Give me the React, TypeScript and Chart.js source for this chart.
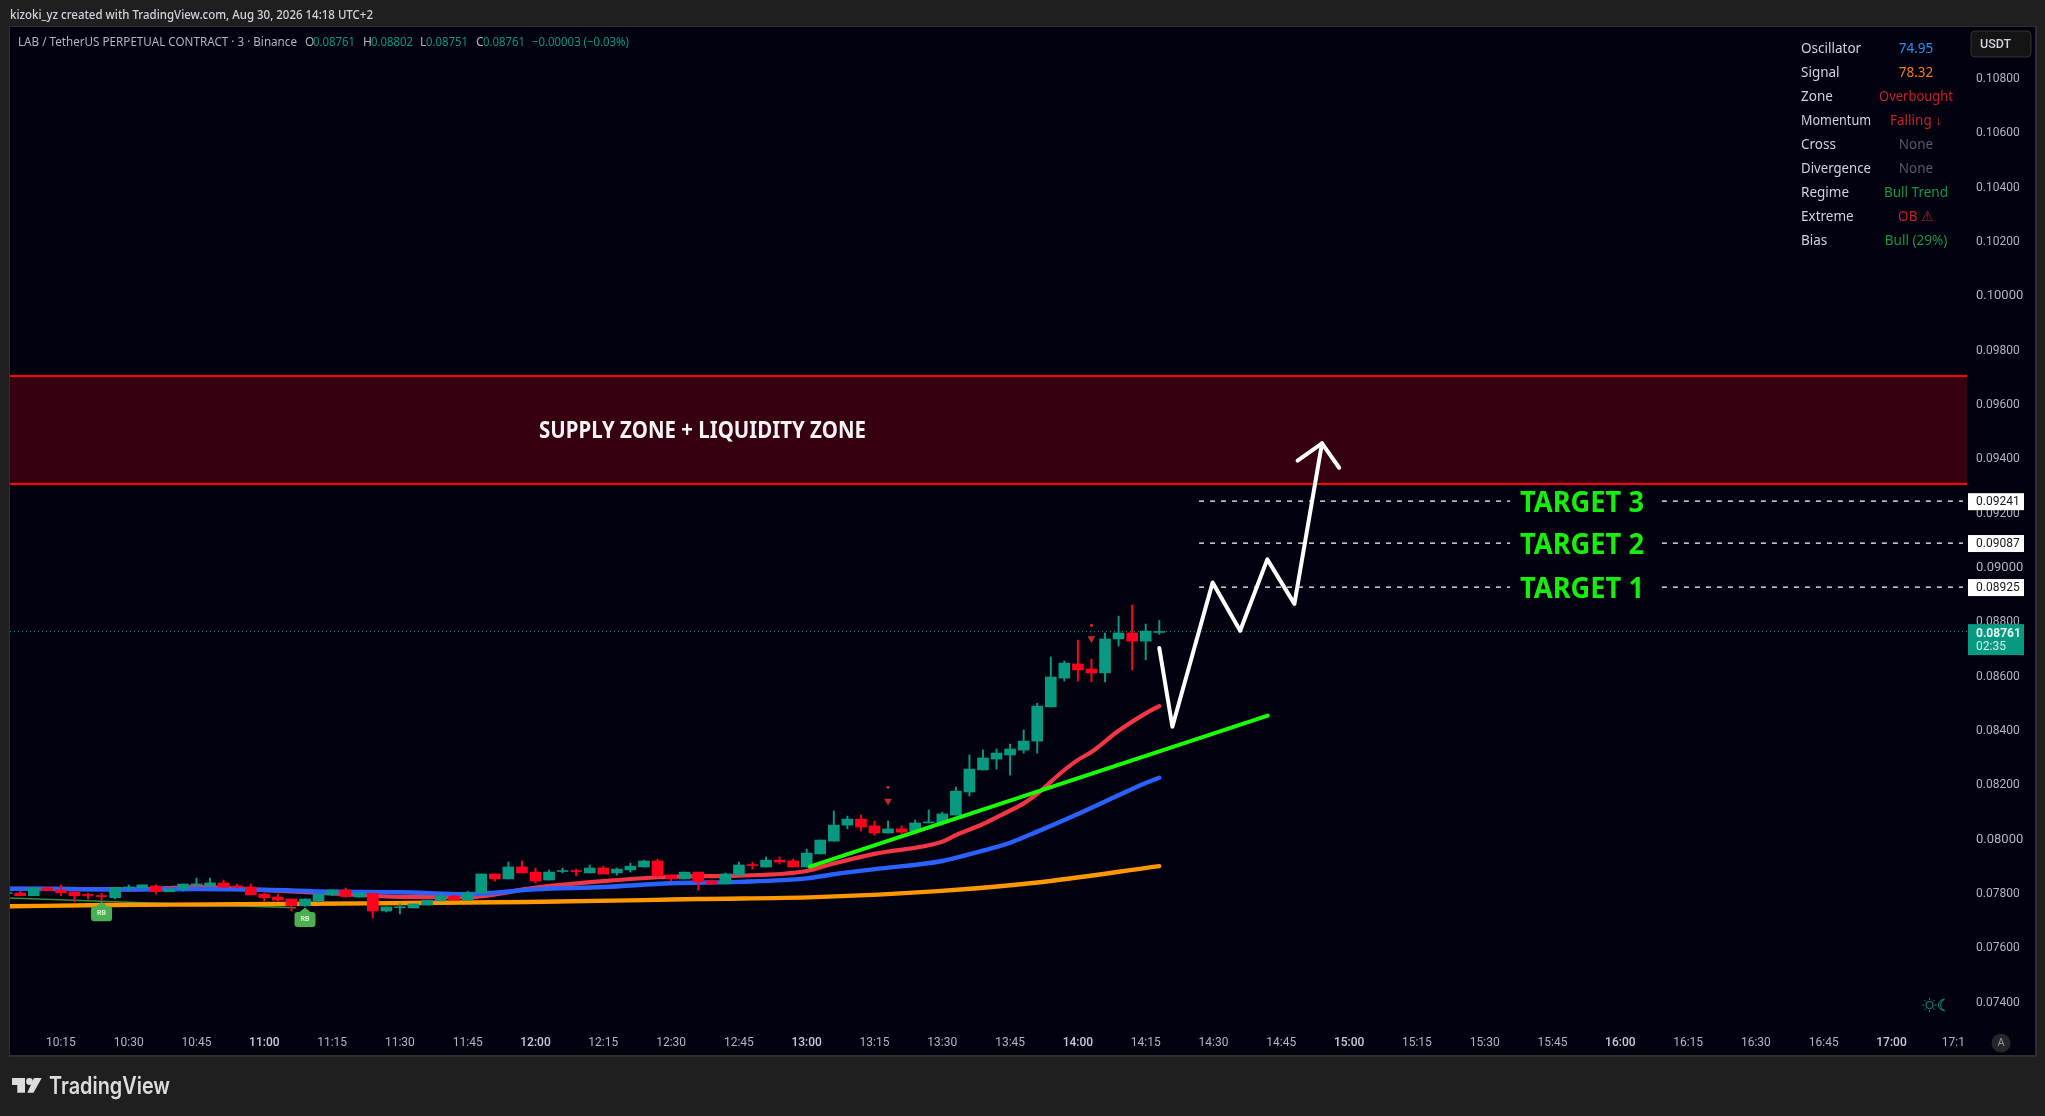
import React, { useEffect, useRef } from "react";
import { Chart, registerables } from "chart.js";

Chart.register(...registerables);

const candleTimes = [603,606,609,612,615,618,621,624,627,630,633,636,639,642,645,648,651,654,657,660,663,666,669,672,675,678,681,684,687,690,693,696,699,702,705,708,711,714,717,720,723,726,729,732,735,738,741,744,747,750,753,756,759,762,765,768,771,774,777,780,783,786,789,792,795,798,801,804,807,810,813,816,819,822,825,828,831,834,837,840,843,846,849,852,855,858];
const opens = [.07797,.07799,.07789,.07818,.07810,.07803,.07793,.07788,.07782,.07818,.07818,.07825,.07804,.07814,.07829,.07825,.07836,.07825,.07821,.07795,.07784,.07777,.07752,.07770,.07792,.07810,.07784,.07798,.07733,.07745,.07744,.07755,.07770,.07788,.07773,.07799,.07869,.07851,.07895,.07876,.07847,.07878,.07880,.07873,.07891,.07873,.07884,.07895,.07917,.07865,.07851,.07876,.07843,.07833,.07865,.07902,.07895,.07920,.07917,.07895,.07943,.07990,.08049,.08071,.08046,.08020,.08035,.08027,.08057,.08057,.08086,.08171,.08252,.08292,.08307,.08325,.08358,.08484,.08590,.08642,.08623,.08609,.08734,.08756,.08726,.08758];
const highs = [.07799,.07806,.07818,.07818,.07829,.07803,.07798,.07798,.07820,.07829,.07829,.07829,.07814,.07832,.07854,.07854,.07847,.07832,.07832,.07799,.07795,.07777,.07777,.07795,.07810,.07818,.07799,.07798,.07748,.07759,.07759,.07773,.07802,.07792,.07806,.07869,.07869,.07913,.07917,.07891,.07884,.07891,.07887,.07902,.07898,.07891,.07909,.07920,.07924,.07865,.07876,.07876,.07847,.07873,.07913,.07913,.07932,.07932,.07924,.07961,.07994,.08101,.08082,.08086,.08064,.08064,.08046,.08068,.08105,.08097,.08189,.08307,.08325,.08329,.08347,.08399,.08498,.08668,.08653,.08730,.08660,.08756,.08818,.08859,.08789,.08802];
const lows = [.07797,.07789,.07789,.07808,.07789,.07767,.07777,.07771,.07777,.07806,.07818,.07795,.07804,.07806,.07825,.07825,.07819,.07818,.07792,.07770,.07770,.07733,.07750,.07766,.07789,.07783,.07784,.07707,.07729,.07722,.07744,.07755,.07770,.07773,.07773,.07799,.07843,.07851,.07873,.07836,.07847,.07873,.07862,.07873,.07869,.07865,.07876,.07895,.07858,.07843,.07851,.07810,.07832,.07833,.07865,.07887,.07895,.07906,.07895,.07895,.07943,.07990,.08035,.08027,.08012,.08020,.08016,.08027,.08057,.08049,.08086,.08156,.08252,.08255,.08233,.08314,.08314,.08484,.08579,.08579,.08576,.08576,.08708,.08620,.08657,.08751];
const closes = [.07799,.07789,.07818,.07808,.07800,.07789,.07790,.07786,.07820,.07820,.07829,.07804,.07814,.07832,.07831,.07836,.07820,.07820,.07792,.07782,.07773,.07752,.07777,.07795,.07810,.07786,.07799,.07733,.07748,.07748,.07759,.07773,.07788,.07773,.07799,.07869,.07851,.07895,.07873,.07843,.07876,.07880,.07878,.07891,.07869,.07887,.07898,.07917,.07862,.07851,.07876,.07840,.07832,.07869,.07902,.07900,.07920,.07913,.07895,.07946,.07994,.08049,.08071,.08042,.08020,.08035,.08023,.08057,.08060,.08090,.08174,.08255,.08296,.08314,.08329,.08358,.08487,.08594,.08645,.08620,.08609,.08734,.08756,.08726,.08763,.08761];

const redTimes = [603,615,630,645,660,675,690,705,720,735,750,765,780,786,795,810,813,819,823,828,832,836,840,843,849,855,858];
const redValues = [.07814,.07814,.07812,.07821,.07810,.07798,.07785,.07784,.07819,.07843,.07859,.07863,.07880,.07908,.07943,.07988,.08012,.08053,.08086,.08129,.08178,.08238,.08289,.08318,.08396,.08460,.08487];
const blueTimes = [603,615,630,645,660,675,690,705,720,735,750,765,780,786,795,810,819,825,831,840,849,855,858];
const blueValues = [.07815,.07814,.07812,.07814,.07811,.07804,.07802,.07795,.07813,.07821,.07835,.07840,.07853,.07868,.07887,.07917,.07955,.07984,.08025,.08090,.08159,.08204,.08223];
const orangeTimes = [603,626,648,666,683,718,744,756,782,809,830,858];
const orangeValues = [.07750,.07755,.07757,.07759,.07761,.07766,.07773,.07777,.07784,.07806,.07836,.07898];
const thinGreenTimes = [603,630,667];
const thinGreenValues = [.07781,.07765,.07745];
const trendTimes = [780.7,882];
const trendValues = [.07896,.08452];
const pathTimes = [858,860.9,869.8,875.9,881.9,887.9,894];
const pathValues = [.08701,.08411,.08942,.08764,.09027,.08863,.09454];
const arrowTimes = [888.6,894,897.8];
const arrowValues = [.09390,.09454,.09364];

const zoneTop = 0.09702;
const zoneBottom = 0.09304;
const lastPrice = 0.08761;
const targetPrices = [0.09241, 0.09087, 0.08925];
const targetNames = ["TARGET 3", "TARGET 2", "TARGET 1"];
const targetSpanA = [866.8, 935.6];
const targetSpanB = [969.2, 1035.8];

const sellTimes = [798, 843];
const sellTriangles = [0.08138, 0.08736];
const sellDots = [0.08188, 0.08784];
const rbTimes = [624, 669];
const rbPrices = [0.07767, 0.07746];

const panelLabels = ["Oscillator","Signal","Zone","Momentum","Cross","Divergence","Regime","Extreme","Bias"];
const panelValues = ["74.95","78.32","Overbought","Falling ↓","None","None","Bull Trend","OB ⚠","Bull (29%)"];
const panelColors = ["#2196f3","#f57c1f","#c8202b","#c8202b","#5a5a66","#5a5a66","#0f9a45","#c8202b","#0f9a45"];

const X_MIN = 603.74;
const X_MAX = 1036.7;
const Y_MIN = 0.07306;
const Y_MAX = 0.10986;

const OUTER = "#1f1f1f";
const PANE = "#02010f";
const BORDER = "#2f2f2f";
const TEAL = "#089981";
const RED = "#ff001e";
const AXIS = "#b2b5be";
const SANS = '"Noto Sans", sans-serif';
const ROBOTO = "Roboto, sans-serif";

const pts = (xs: number[], ys: number[]) => xs.map((x, i) => ({ x, y: ys[i] }));
const clockLabel = (m: number) => {
  const h = Math.floor(m / 60);
  const mm = m % 60;
  return `${h}:${String(mm).padStart(2, "0")}`;
};

function txt(ctx: any, s: string, x: number, y: number, font: string, color: string, align = "left", maxW?: number) {
  ctx.font = font;
  ctx.fillStyle = color;
  ctx.textAlign = align;
  ctx.textBaseline = "middle";
  if (maxW) ctx.fillText(s, x, y, maxW);
  else ctx.fillText(s, x, y);
}

const framePlugin = {
  id: "frame",
  beforeDraw(chart: any) {
    const { ctx } = chart;
    ctx.save();
    ctx.fillStyle = OUTER;
    ctx.fillRect(0, 0, 2045, 1116);
    ctx.fillStyle = BORDER;
    ctx.fillRect(9, 26, 2028, 1031);
    ctx.fillStyle = PANE;
    ctx.fillRect(10, 27, 2025, 1028);
    ctx.restore();
  },
  afterDraw(chart: any) {
    const { ctx, scales } = chart;
    const xs = scales.x;
    const ys = scales.y;
    ctx.save();

    // header lines
    txt(ctx, "kizoki_yz created with TradingView.com, Aug 30, 2026 14:18 UTC+2", 10, 15.5, `500 12.5px ${SANS}`, "#d1d4dc", "left", 363);
    txt(ctx, "LAB / TetherUS PERPETUAL CONTRACT · 3 · Binance", 18, 42.7, `12px ${SANS}`, AXIS, "left", 279);
    const ohlc = [["O", "0.08761", 305, 313], ["H", "0.08802", 363, 371], ["L", "0.08751", 420, 426], ["C", "0.08761", 476, 483]];
    ohlc.forEach(([a, b, x1, x2]: any) => {
      txt(ctx, a, x1, 42.7, `12px ${SANS}`, AXIS);
      txt(ctx, b, x2, 42.7, `12px ${SANS}`, TEAL, "left", 42);
    });
    txt(ctx, "−0.00003 (−0.03%)", 532, 42.7, `12px ${SANS}`, TEAL, "left", 97);

    // zone label
    txt(ctx, "SUPPLY ZONE + LIQUIDITY ZONE", 539, (ys.getPixelForValue(zoneTop) + ys.getPixelForValue(zoneBottom)) / 2 + 1.3, `700 23px ${SANS}`, "#f4f4f4", "left", 327);

    // target labels and price tags
    targetPrices.forEach((p, i) => {
      const y = ys.getPixelForValue(p);
      txt(ctx, targetNames[i], 1520, y + 2.5, `700 29px ${SANS}`, "#14f00a", "left", 124);
      ctx.fillStyle = "#ffffff";
      ctx.fillRect(1968, y - 8, 56, 17);
      txt(ctx, p.toFixed(5), 1976, y + 1.2, `12px ${ROBOTO}`, "#131722");
    });

    // last price tag
    const ly = ys.getPixelForValue(lastPrice);
    ctx.fillStyle = TEAL;
    ctx.fillRect(1968, ly - 7.5, 56, 31);
    txt(ctx, lastPrice.toFixed(5), 1976, ly + 2.7, `bold 12px ${ROBOTO}`, "#e8f6f3");
    txt(ctx, "02:35", 1976, ly + 15.7, `12px ${ROBOTO}`, "#d5efe9");

    // RB badges
    rbTimes.forEach((t, i) => {
      const x = xs.getPixelForValue(t);
      const y = ys.getPixelForValue(rbPrices[i]);
      ctx.fillStyle = "#4caf50";
      ctx.beginPath();
      ctx.moveTo(x, y);
      ctx.lineTo(x + 6, y + 5);
      ctx.lineTo(x - 6, y + 5);
      ctx.closePath();
      ctx.fill();
      ctx.beginPath();
      ctx.roundRect(x - 10.5, y + 4.5, 21, 15, 3);
      ctx.fill();
      txt(ctx, "RB", x, y + 12, `bold 7px ${ROBOTO}`, "#d8f0d9", "center");
    });

    // oscillator panel
    panelLabels.forEach((l, i) => {
      const y = 49.6 + i * 24;
      txt(ctx, l, 1801, y, `13.5px ${SANS}`, "#d1d4dc", "left", 70);
      txt(ctx, panelValues[i], 1916, y, `13.5px ${SANS}`, panelColors[i], "center", 74);
    });

    // currency button
    ctx.fillStyle = "#141414";
    ctx.strokeStyle = "#34343a";
    ctx.lineWidth = 1;
    ctx.beginPath();
    ctx.roundRect(1971, 31, 60, 26, 4);
    ctx.fill();
    ctx.stroke();
    txt(ctx, "USDT", 1980, 45, `500 12.5px ${ROBOTO}`, "#d1d4dc");

    // theme icon: sun and moon
    ctx.strokeStyle = TEAL;
    ctx.lineWidth = 1;
    ctx.beginPath();
    ctx.arc(1929.5, 1005, 3.6, 0, Math.PI * 2);
    for (let a = 0; a < 8; a++) {
      const ang = (a * Math.PI) / 4;
      ctx.moveTo(1929.5 + Math.cos(ang) * 5, 1005 + Math.sin(ang) * 5);
      ctx.lineTo(1929.5 + Math.cos(ang) * 7, 1005 + Math.sin(ang) * 7);
    }
    ctx.moveTo(1944, 999.5);
    ctx.arc(1944, 1005, 5.5, -Math.PI / 2, Math.PI / 2, true);
    ctx.arc(1947, 1005, 6.3, Math.PI * 0.62, -Math.PI * 0.62, false);
    ctx.stroke();

    // auto scale button
    ctx.fillStyle = "#25252c";
    ctx.beginPath();
    ctx.arc(2001, 1043, 9.5, 0, Math.PI * 2);
    ctx.fill();
    txt(ctx, "A", 2001, 1043.5, `11px ${ROBOTO}`, "#9598a1", "center");

    // logo
    ctx.fillStyle = "#dcdcdc";
    ctx.beginPath();
    ctx.moveTo(12, 1078);
    ctx.lineTo(25, 1078);
    ctx.lineTo(25, 1092.7);
    ctx.lineTo(17.3, 1092.7);
    ctx.lineTo(17.3, 1085);
    ctx.lineTo(12, 1085);
    ctx.closePath();
    ctx.fill();
    ctx.beginPath();
    ctx.arc(29.5, 1081.5, 3.4, 0, Math.PI * 2);
    ctx.fill();
    ctx.beginPath();
    ctx.moveTo(41.7, 1078);
    ctx.lineTo(33.5, 1092.7);
    ctx.lineTo(27.3, 1092.7);
    ctx.lineTo(34, 1078);
    ctx.closePath();
    ctx.fill();
    txt(ctx, "TradingView", 49, 1086.5, `600 24px Inter, ${SANS}`, "#dcdcdc", "left", 121);

    ctx.restore();
  },
};

export default function App() {
  const ref = useRef<HTMLCanvasElement | null>(null);
  useEffect(() => {
    document.body.style.background = OUTER;
    const up = (i: number) => closes[i] >= opens[i];
    const candleColors = candleTimes.map((_, i) => (up(i) ? TEAL : RED));
    const chart = new Chart(ref.current as HTMLCanvasElement, {
      type: "bar",
      data: {
        datasets: [
          { type: "line", data: pts([X_MIN, X_MAX], [zoneTop, zoneTop]), borderColor: "#ff0010", borderWidth: 2, pointRadius: 0, fill: "+1", backgroundColor: "#370010", order: 100 },
          { type: "line", data: pts([X_MIN, X_MAX], [zoneBottom, zoneBottom]), borderColor: "#ff0010", borderWidth: 2, pointRadius: 0, fill: false, order: 99 },
          { type: "line", data: pts(thinGreenTimes, thinGreenValues), borderColor: "#2f8f3a", borderWidth: 1.5, pointRadius: 0, order: 60 },
          { type: "line", data: pts(redTimes, redValues), borderColor: "#f23645", borderWidth: 4.2, pointRadius: 0, cubicInterpolationMode: "monotone", borderCapStyle: "round", order: 52 },
          { type: "line", data: pts(blueTimes, blueValues), borderColor: "#2962ff", borderWidth: 4.4, pointRadius: 0, cubicInterpolationMode: "monotone", borderCapStyle: "round", order: 51 },
          { type: "line", data: pts(orangeTimes, orangeValues), borderColor: "#ff9800", borderWidth: 4.4, pointRadius: 0, cubicInterpolationMode: "monotone", borderCapStyle: "round", order: 50 },
          { type: "line", data: pts([X_MIN, X_MAX], [lastPrice, lastPrice]), borderColor: TEAL, borderWidth: 1, borderDash: [1, 3], pointRadius: 0, order: 45 },
          { type: "bar", data: candleTimes.map((x, i) => ({ x, y: [lows[i], highs[i]] })), backgroundColor: candleColors, barThickness: 1.3, borderWidth: 0, grouped: false, order: 40 },
          { type: "bar", data: candleTimes.map((x, i) => ({ x, y: [opens[i], closes[i]] })), backgroundColor: candleColors, barThickness: 11, minBarLength: 1, borderWidth: 0, grouped: false, order: 39 },
          { type: "scatter", data: pts(sellTimes, sellTriangles), pointStyle: "triangle", rotation: 180, radius: 4.5, backgroundColor: "#c62828", borderWidth: 0, order: 30 },
          { type: "scatter", data: pts(sellTimes, sellDots), pointStyle: "circle", radius: 1.6, backgroundColor: "#c62828", borderWidth: 0, order: 30 },
          ...targetPrices.flatMap((p) => [
            { type: "line", data: pts(targetSpanA, [p, p]), borderColor: "#ffffff", borderWidth: 1.2, borderDash: [5, 6], pointRadius: 0, order: 25 },
            { type: "line", data: pts(targetSpanB, [p, p]), borderColor: "#ffffff", borderWidth: 1.2, borderDash: [5, 6], pointRadius: 0, order: 25 },
          ]),
          { type: "line", data: pts(trendTimes, trendValues), borderColor: "#19ff05", borderWidth: 4, pointRadius: 0, borderCapStyle: "round", order: 20 },
          { type: "line", data: pts(pathTimes, pathValues), borderColor: "#ffffff", borderWidth: 4, pointRadius: 0, borderCapStyle: "round", borderJoinStyle: "round", order: 10 },
          { type: "line", data: pts(arrowTimes, arrowValues), borderColor: "#ffffff", borderWidth: 4, pointRadius: 0, borderCapStyle: "round", borderJoinStyle: "round", order: 10 },
        ] as any,
      },
      options: {
        animation: false,
        responsive: false,
        devicePixelRatio: 1,
        layout: { padding: { left: 10, top: 27, right: 10, bottom: 61 } },
        plugins: { legend: { display: false }, tooltip: { enabled: false }, title: { display: false } },
        events: [],
        scales: {
          x: {
            type: "linear",
            offset: false,
            min: X_MIN,
            max: X_MAX,
            afterFit: (s: any) => { s.height = 28; },
            grid: { display: false, drawTicks: false },
            border: { display: false },
            ticks: {
              stepSize: 15,
              includeBounds: false,
              autoSkip: false,
              maxRotation: 0,
              padding: 9,
              color: (c: any) => (c.tick && c.tick.value % 60 === 0 ? "#c8cbd3" : AXIS),
              font: (c: any) => ({ family: "Roboto", size: 12, weight: c.tick && c.tick.value % 60 === 0 ? "500" : "normal" }),
              callback: (v: any) => (v === 1035 ? "17:1    " : clockLabel(Number(v))),
            },
          },
          y: {
            type: "linear",
            position: "right",
            min: Y_MIN,
            max: Y_MAX,
            afterFit: (s: any) => { s.width = 68; },
            grid: { display: false, drawTicks: false },
            border: { display: false },
            ticks: {
              stepSize: 0.002,
              includeBounds: false,
              autoSkip: false,
              padding: 9,
              labelOffset: 1.3,
              crossAlign: "near",
              color: AXIS,
              font: (c: any) => ({ family: "Roboto", size: c.tick && Math.abs(c.tick.value * 100 - Math.round(c.tick.value * 100)) < 1e-6 ? 13 : 12 }),
              callback: (v: any) => Number(v).toFixed(5),
            },
          },
        },
      } as any,
      plugins: [framePlugin],
    } as any);
    return () => chart.destroy();
  }, []);
  return <canvas ref={ref} width={2045} height={1116} style={{ position: "fixed", left: 0, top: 0, width: 2045, height: 1116, display: "block" }} />;
}
